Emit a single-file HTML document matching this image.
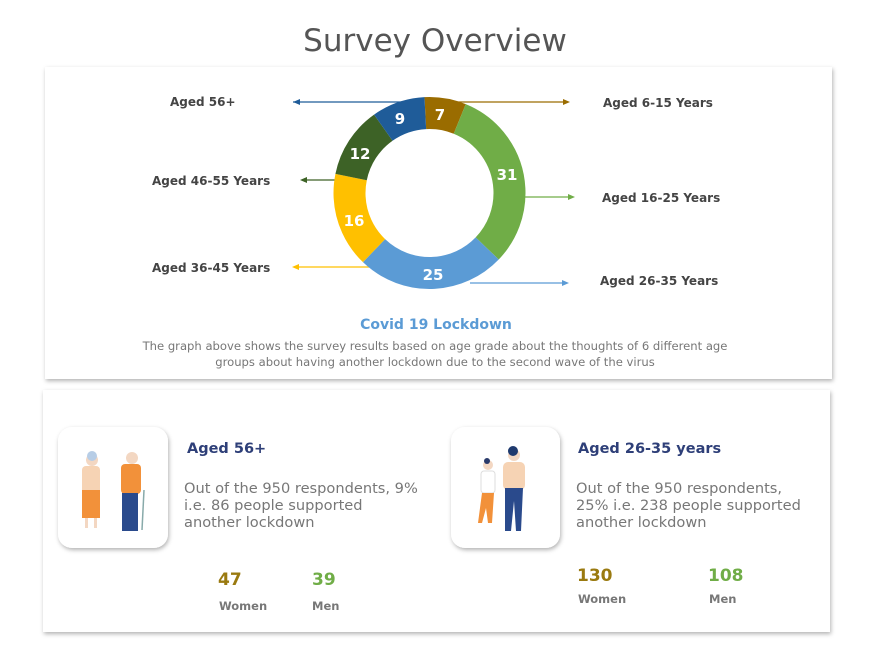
<!DOCTYPE html>
<html><head><style>
body{margin:0;background:#fff;width:870px;height:653px;overflow:hidden}
</style></head><body>
<svg width="870" height="653" viewBox="0 0 870 653" xmlns="http://www.w3.org/2000/svg" font-family="DejaVu Sans, Liberation Sans, sans-serif">
<defs>
<filter id="sh" x="-10%" y="-10%" width="120%" height="130%"><feDropShadow dx="1" dy="2" stdDeviation="2" flood-color="#000" flood-opacity="0.3"/></filter>
</defs>
<text x="435" y="51" text-anchor="middle" font-size="31" fill="#555">Survey Overview</text>
<rect x="45" y="67" width="787" height="312" fill="#fff" filter="url(#sh)"/>
<rect x="43" y="390" width="787" height="242" fill="#fff" filter="url(#sh)"/>
<g stroke-width="1.3" fill="none">
<line x1="420" y1="102" x2="293" y2="102" stroke="#1f5c99"/><path d="M293,102 l7,-3 v6z" fill="#1f5c99" stroke="none"/>
<line x1="440" y1="102" x2="568" y2="102" stroke="#9a6c00"/><path d="M570,102 l-7,-3 v6z" fill="#9a6c00" stroke="none"/>
<line x1="338" y1="180" x2="302" y2="180" stroke="#3d6226"/><path d="M300,180 l7,-3 v6z" fill="#3d6226" stroke="none"/>
<line x1="524" y1="197" x2="572" y2="197" stroke="#70ad47"/><path d="M575,197 l-7,-3 v6z" fill="#70ad47" stroke="none"/>
<line x1="370" y1="267" x2="294" y2="267" stroke="#ffc000"/><path d="M292,267 l7,-3 v6z" fill="#ffc000" stroke="none"/>
<line x1="470" y1="283" x2="566" y2="283" stroke="#5b9bd5"/><path d="M569,283 l-7,-3 v6z" fill="#5b9bd5" stroke="none"/>
</g>
<g transform="rotate(-93 429.5 193)" fill="none" stroke-width="32">
<circle cx="429.5" cy="193" r="80" stroke="#9a6c00" stroke-dasharray="35.19 600" stroke-dashoffset="0"/>
<circle cx="429.5" cy="193" r="80" stroke="#70ad47" stroke-dasharray="155.82 600" stroke-dashoffset="-35.19"/>
<circle cx="429.5" cy="193" r="80" stroke="#5b9bd5" stroke-dasharray="125.66 600" stroke-dashoffset="-191.01"/>
<circle cx="429.5" cy="193" r="80" stroke="#ffc000" stroke-dasharray="80.42 600" stroke-dashoffset="-316.67"/>
<circle cx="429.5" cy="193" r="80" stroke="#3d6226" stroke-dasharray="60.32 600" stroke-dashoffset="-397.09"/>
<circle cx="429.5" cy="193" r="80" stroke="#1f5c99" stroke-dasharray="45.24 600" stroke-dashoffset="-457.41"/>
</g>
<g fill="#fff" font-weight="bold" font-size="15" text-anchor="middle">
<text x="440" y="120">7</text><text x="400" y="124">9</text><text x="360" y="159">12</text>
<text x="507" y="180">31</text><text x="354" y="226">16</text><text x="433" y="280">25</text>
</g>
<g font-size="12" font-weight="bold" fill="#444">
<text x="170" y="106">Aged 56+</text>
<text x="152" y="185">Aged 46-55 Years</text>
<text x="152" y="272">Aged 36-45 Years</text>
<text x="603" y="107">Aged 6-15 Years</text>
<text x="602" y="202">Aged 16-25 Years</text>
<text x="600" y="285">Aged 26-35 Years</text>
</g>
<text x="436" y="329" text-anchor="middle" font-size="14" font-weight="bold" fill="#5b9bd5">Covid 19 Lockdown</text>
<text x="435" y="350" text-anchor="middle" font-size="11.6" fill="#777">The graph above shows the survey results based on age grade about the thoughts of 6 different age</text>
<text x="435" y="366" text-anchor="middle" font-size="11.6" fill="#777">groups about having another lockdown due to the second wave of the virus</text>

<rect x="58" y="427" width="110" height="121" rx="14" fill="#fff" filter="url(#sh)"/>
<rect x="451" y="427" width="109" height="121" rx="14" fill="#fff" filter="url(#sh)"/>
<circle cx="92" cy="460" r="6" fill="#f3d7c2"/><circle cx="92" cy="456" r="5" fill="#b7cde6"/>
<rect x="82" y="466" width="18" height="28" rx="4" fill="#f6d3b4"/>
<rect x="82" y="490" width="18" height="28" fill="#f2913a"/>
<rect x="85" y="518" width="3" height="10" fill="#f3d7c2"/><rect x="94" y="518" width="3" height="10" fill="#f3d7c2"/>
<circle cx="132" cy="458" r="6" fill="#f3d7c2"/>
<rect x="121" y="464" width="20" height="30" rx="4" fill="#f2913a"/>
<rect x="122" y="493" width="16" height="38" fill="#2a4a8c"/>
<line x1="144" y1="490" x2="142" y2="530" stroke="#8aa" stroke-width="1.5"/>
<circle cx="488" cy="465" r="5" fill="#f3d7c2"/><circle cx="487" cy="461" r="3" fill="#2a3a6a"/>
<rect x="481" y="471" width="14" height="22" rx="3" fill="#fff" stroke="#ddd"/>
<path d="M482,493 h12 l-2,30 h-4 l-2,-15 l-4,15 h-4z" fill="#f2913a"/>
<circle cx="514" cy="455" r="6" fill="#f3d7c2"/><circle cx="513" cy="451" r="5" fill="#1f3a6e"/>
<rect x="503" y="462" width="22" height="28" rx="5" fill="#f6d3b4"/>
<path d="M505,488 h18 l-2,43 h-5 l-2,-30 l-3,30 h-6z" fill="#2a4a8c"/>

<g font-size="14.5" font-weight="bold" fill="#2e3f78">
<text x="187" y="453">Aged 56+</text><text x="578" y="453">Aged 26-35 years</text>
</g>
<g font-size="14.6" fill="#777">
<text x="184" y="493">Out of the 950 respondents, 9%</text>
<text x="184" y="510">i.e. 86 people supported</text>
<text x="184" y="527">another lockdown</text>
<text x="576" y="493">Out of the 950 respondents,</text>
<text x="576" y="510">25% i.e. 238 people supported</text>
<text x="576" y="527">another lockdown</text>
</g>
<g font-size="17" font-weight="bold">
<text x="218" y="585" fill="#9a7a10">47</text><text x="312" y="585" fill="#70ad47">39</text>
<text x="577" y="581" fill="#9a7a10">130</text><text x="708" y="581" fill="#70ad47">108</text>
</g>
<g font-size="11.5" font-weight="bold" fill="#777">
<text x="219" y="610">Women</text><text x="312" y="610">Men</text>
<text x="578" y="603">Women</text><text x="709" y="603">Men</text>
</g>
</svg>
</body></html>
